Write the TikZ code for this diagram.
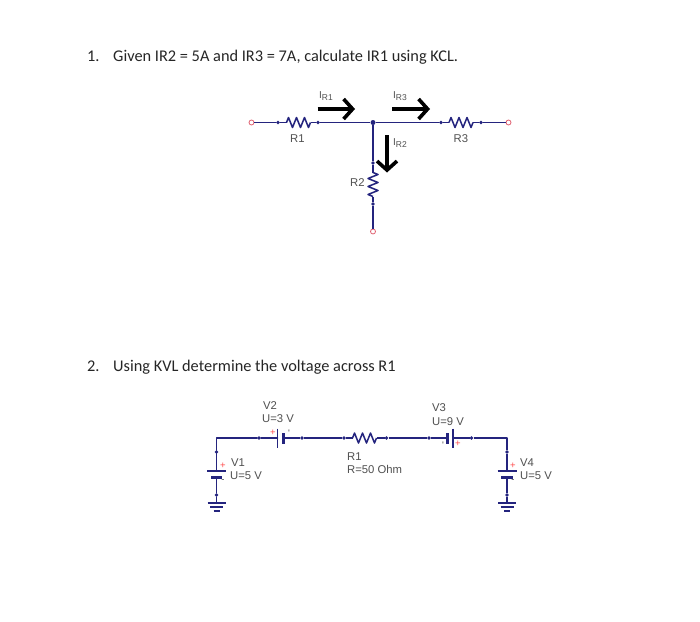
\documentclass[tikz,border=0pt]{standalone}
\usepackage{fontspec}
\setmainfont{Carlito}
\newfontfamily\labelfont{Liberation Sans}
\usetikzlibrary{arrows.meta}
\definecolor{wire}{HTML}{24247E}
\definecolor{lab}{HTML}{505050}
\definecolor{term}{HTML}{E06070}
\tikzset{
  x=1pt,y=-1pt,
  heading/.style={anchor=base west,inner sep=0,font=\fontsize{16.35}{18}\selectfont,text=black!85},
  lbl/.style={anchor=west,inner sep=0,yshift=-0.8pt,font=\labelfont\fontsize{11.3}{13}\selectfont,text=lab},
  cur/.style={anchor=west,inner sep=0,font=\labelfont\fontsize{10}{11}\selectfont,text=lab},
  wireline/.style={draw=wire,line width=1.5pt},
  plate/.style={draw=wire,line width=1.5pt},
  thickplate/.style={draw=wire,line width=3pt},
  dotn/.style={circle,fill=wire,inner sep=0,minimum size=3.6pt},
  jun/.style={circle,fill=wire,inner sep=0,minimum size=5pt},
  termn/.style={circle,draw=term,fill=white,line width=.8pt,inner sep=0,minimum size=5pt},
  bigarrow/.style={draw=black,line width=3.6pt,-{Straight Barb[length=9pt,width=20pt,line width=3.6pt]}},
  sign/.style={inner sep=0,font=\labelfont\fontsize{9.5}{9}\selectfont},
  res/.pic={\draw[wireline,line join=round] (0,0)--(2,-5)--(6,5)--(10,-5)--(14,5)--(18,-5)--(22,5)--(24,0);},
  resv/.pic={\draw[wireline,line join=round] (0,0)--(5,2)--(-5,6)--(5,10)--(-5,14)--(5,18)--(-5,22)--(0,24);},
  groundsym/.pic={\draw[plate] (-9,0)--(9,0);\draw[plate] (-6.5,4)--(6.5,4);\draw[plate] (-3,8)--(3,8);}
}
\begin{document}
\begin{tikzpicture}
\useasboundingbox (0,0) rectangle (700,621);
\fill[white] (0,0) rectangle (700,621);
% headings
\node[heading] (h1n) at (87,61) {1.};
\node[heading] (h1) at (113,61) {Given IR2 = 5A and IR3 = 7A, calculate IR1 using KCL.};
\node[heading] (h2n) at (87,371) {2.};
\node[heading] (h2) at (113,371) {Using KVL determine the voltage across R1};
% circuit 1 nodes
\node[termn] (tl) at (251.5,122.5) {};
\node[dotn] (r1a) at (278,122.5) {};
\node[dotn] (r1b) at (318,122.5) {};
\node[jun] (j) at (373,122.5) {};
\node[dotn] (r3a) at (441,122.5) {};
\node[dotn] (r3b) at (481,122.5) {};
\node[termn] (tr) at (508.5,122.5) {};
\node[dotn] (r2a) at (373,163) {};
\node[dotn] (r2b) at (373,204) {};
\node[termn] (tb) at (373,231.5) {};
\draw[wireline] (tl)--(r1a);
\draw[wireline] (r1a)--++(8.5,0);
\pic at (286.5,122.5) {res};
\draw[wireline] (r1b)--++(-7.5,0);
\draw[wireline] (r1b)--(j)--(r3a);
\draw[wireline] (r3a)--++(8,0);
\pic at (449,122.5) {res};
\draw[wireline] (r3b)--++(-8,0);
\draw[wireline] (r3b)--(tr);
\draw[wireline] (j)--(r2a);
\draw[wireline] (r2a)--++(0,9.5);
\pic at (373,172.5) {resv};
\draw[wireline] (r2b)--++(0,-7.5);
\draw[wireline] (r2b)--(tb);
\node[lbl] (lr1) at (290,138) {R1};
\node[lbl] (lr3) at (453.5,138) {R3};
\node[lbl] (lr2) at (350,181.5) {R2};
% current arrows
\coordinate (a1s) at (317.5,109); \coordinate (a1e) at (355,109);
\coordinate (a3s) at (392,109); \coordinate (a3e) at (430,109);
\coordinate (a2s) at (387,135); \coordinate (a2e) at (387,172.5);
\draw[bigarrow] (a1s)--(a1e);
\draw[bigarrow] (a3s)--(a3e);
\draw[bigarrow] (a2s)--(a2e);
\node[cur] (i1) at (319,96.5) {I\raisebox{-2pt}{\fontsize{8.5}{8}\selectfont R1}};
\node[cur] (i3) at (393,96.5) {I\raisebox{-2pt}{\fontsize{8.5}{8}\selectfont R3}};
\node[cur] (i2) at (393,143.5) {I\raisebox{-2pt}{\fontsize{8.5}{8}\selectfont R2}};
% circuit 2 nodes
\coordinate (cl) at (216.5,438);
\coordinate (cr) at (507,438);
\node[dotn] (v2a) at (259,438) {};
\node[dotn] (v2b) at (302,438) {};
\node[dotn] (r4a) at (344,438) {};
\node[dotn] (r4b) at (386.5,438) {};
\node[dotn] (v3a) at (429,438) {};
\node[dotn] (v3b) at (471.5,438) {};
\node[dotn] (v1a) at (216.5,452) {};
\node[dotn] (v1b) at (216.5,495) {};
\node[dotn] (v4a) at (507,452) {};
\node[dotn] (v4b) at (507,495) {};
\coordinate (g1) at (216.5,503);
\coordinate (g4) at (507,503);
\draw[wireline,line cap=round,line join=round] (v1a)--(cl)--(v2a)--(277.5,438);
\draw[wireline] (283,438)--(v2b)--(r4a)--(352.5,438);
\pic at (352.5,438) {res};
\draw[wireline] (376.5,438)--(r4b)--(v3a)--(447,438);
\draw[wireline,line join=round] (453,438)--(v3b)--(cr)--(v4a)--(507,471);
\draw[wireline] (216.5,452)--(216.5,471);
\draw[wireline] (216.5,477)--(v1b)--(g1);
\draw[wireline] (507,477)--(v4b)--(g4);
% batteries
\draw[plate] (277.7,428.5)--(277.7,447.5);
\draw[thickplate] (283,433)--(283,443.5);
\draw[thickplate] (447,433)--(447,443.5);
\draw[plate] (453,428.5)--(453,447.5);
\draw[plate] (207,471)--(226,471);
\draw[thickplate] (211,477)--(222,477);
\draw[plate] (497.5,471)--(516.5,471);
\draw[thickplate] (501,477)--(513,477);
\pic at (g1) {groundsym};
\pic at (g4) {groundsym};
% polarity marks
\node[sign,text=red!70] (p2) at (273,433) {+};
\node[sign,text=lab] (m2) at (289,433) {'};
\node[sign,text=red!70] (p1) at (223,466) {+};
\node[sign,text=lab] (m1) at (223,481.5) {-};
\node[sign,text=red!70] (p3) at (458,444) {+};
\node[sign,text=lab] (m3) at (443,445) {'};
\node[sign,text=red!70] (p4) at (513,466) {+};
\node[sign,text=lab] (m4) at (513,481.5) {-};
% labels
\node[lbl] (lv2) at (263,405) {V2};
\node[lbl] (lu2) at (262,418) {U=3 V};
\node[lbl] (lv1) at (231,462) {V1};
\node[lbl] (lu1) at (230,475) {U=5 V};
\node[lbl] (lr4) at (347,456) {R1};
\node[lbl] (lr5) at (347,469) {R=50 Ohm};
\node[lbl] (lv3) at (432,407) {V3};
\node[lbl] (lu3) at (432,421) {U=9 V};
\node[lbl] (lv4) at (520,462) {V4};
\node[lbl] (lu4) at (520,475) {U=5 V};
\end{tikzpicture}
\end{document}
